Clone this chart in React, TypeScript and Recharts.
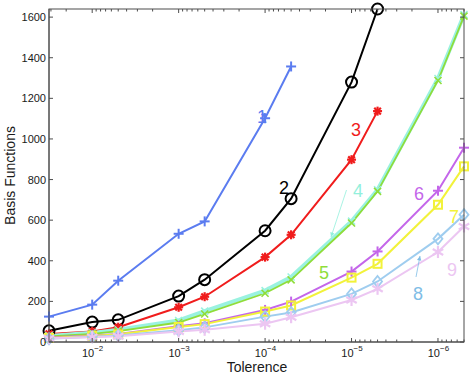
import React from 'react';
import { LineChart, Line, XAxis, YAxis } from 'recharts';

// ---- data ----
const tolerances = [0.0316, 1e-2, 5e-3, 1e-3, 5e-4, 1e-4, 5e-5, 1e-5, 5e-6, 1e-6, 5e-7];
const basis1 = [125, 184, 302, 533, 594, 1102, 1357, null, null, null, null];
const basis2 = [55, 98, 109, 226, 307, 548, 706, 1280, 1640, null, null];
const basis3 = [40, 52, 73, 171, 223, 418, 528, 898, 1137, null, null];
const basis4 = [30, 45, 60, 106, 152, 253, 320, 595, 750, 1298, 1612];
const basis5 = [28, 40, 54, 96, 138, 240, 306, 586, 742, 1288, 1605];
const basis6 = [22, 32, 40, 78, 92, 158, 199, 347, 446, 745, 957];
const basis7 = [20, 30, 38, 74, 88, 150, 180, 317, 385, 676, 865];
const basis8 = [16, 26, 32, 58, 72, 125, 145, 237, 298, 508, 627];
const basis9 = [18, 24, 28, 52, 60, 90, 122, 207, 262, 443, 569];

const seriesLabels = ['1', '2', '3', '4', '5', '6', '7', '8', '9'];
const xMajorTicks = [1e-2, 1e-3, 1e-4, 1e-5, 1e-6];
const xMajorExponents = ['\u22122', '\u22123', '\u22124', '\u22125', '\u22126'];
const yTicks = [0, 200, 400, 600, 800, 1000, 1200, 1400, 1600];
const xDomain = [5e-7, 0.0316];
const yDomain = [0, 1640];

const allSeries = [basis1, basis2, basis3, basis4, basis5, basis6, basis7, basis8, basis9];
const chartData = tolerances.map((t, i) => {
  const row: any = { tol: t };
  allSeries.forEach((s, k) => {
    row['s' + (k + 1)] = s[i];
  });
  return row;
});

// minor tick positions (2..9 x 10^k) inside the domain
const minorTicks: number[] = [];
for (let e = -7; e <= -1; e++) {
  for (let m = 2; m <= 9; m++) {
    const v = m * Math.pow(10, e);
    if (v >= xDomain[0] * 0.999 && v <= xDomain[1] * 1.001) minorTicks.push(v);
  }
}
const allXTicks = [...xMajorTicks, ...minorTicks].sort((a, b) => a - b);

// ---- layout ----
const W = 474;
const H = 377;
const PLOT_LEFT = 49;
const PLOT_RIGHT = 464;
const PLOT_TOP = 9;
const PLOT_BOTTOM = 342;
const PLOT_W = PLOT_RIGHT - PLOT_LEFT;
const PLOT_H = PLOT_BOTTOM - PLOT_TOP;
const AXIS = '#4d4d4d';
const FONT = '"Liberation Sans", Arial, Helvetica, sans-serif';

const styles = [
  { color: '#5b7cf0', marker: 'plus', width: 2 },
  { color: '#000000', marker: 'circle', width: 2 },
  { color: '#f01c1c', marker: 'asterisk', width: 2 },
  { color: '#9af2e0', marker: 'x', width: 4 },
  { color: '#8fdd3a', marker: 'x', width: 1.8 },
  { color: '#c466ea', marker: 'plus', width: 2 },
  { color: '#f2f23a', marker: 'square', width: 2 },
  { color: '#9fcdef', marker: 'diamond', width: 2 },
  { color: '#ecc6f2', marker: 'star', width: 2 },
];

function renderMarker(kind: string, color: string, p: any) {
  const key = `${kind}-${p.index}-${color}`;
  const { cx, cy } = p;
  if (cx == null || cy == null || p.value == null || (Array.isArray(p.value) && p.value[1] == null)) {
    return <g key={key} />;
  }
  switch (kind) {
    case 'plus':
      return (
        <g key={key} stroke={color} strokeWidth={2}>
          <line x1={cx - 5} y1={cy} x2={cx + 5} y2={cy} />
          <line x1={cx} y1={cy - 5} x2={cx} y2={cy + 5} />
        </g>
      );
    case 'circle':
      return <circle key={key} cx={cx} cy={cy} r={5.5} fill="none" stroke={color} strokeWidth={2} />;
    case 'asterisk':
      return (
        <g key={key} stroke={color} strokeWidth={2.2}>
          <line x1={cx - 4.5} y1={cy} x2={cx + 4.5} y2={cy} />
          <line x1={cx} y1={cy - 4.5} x2={cx} y2={cy + 4.5} />
          <line x1={cx - 3.3} y1={cy - 3.3} x2={cx + 3.3} y2={cy + 3.3} />
          <line x1={cx - 3.3} y1={cy + 3.3} x2={cx + 3.3} y2={cy - 3.3} />
        </g>
      );
    case 'x':
      return (
        <g key={key} stroke={color} strokeWidth={1.6}>
          <line x1={cx - 3.5} y1={cy - 3.5} x2={cx + 3.5} y2={cy + 3.5} />
          <line x1={cx - 3.5} y1={cy + 3.5} x2={cx + 3.5} y2={cy - 3.5} />
        </g>
      );
    case 'square':
      return <rect key={key} x={cx - 4} y={cy - 4} width={8} height={8} fill="none" stroke={color} strokeWidth={2} />;
    case 'diamond':
      return (
        <polygon
          key={key}
          points={`${cx},${cy - 5.5} ${cx + 4.5},${cy} ${cx},${cy + 5.5} ${cx - 4.5},${cy}`}
          fill="none"
          stroke={color}
          strokeWidth={1.8}
        />
      );
    case 'star':
    default:
      return (
        <g key={key} stroke={color} strokeWidth={2.2}>
          <line x1={cx} y1={cy - 6} x2={cx} y2={cy + 6} />
          <line x1={cx - 5.2} y1={cy - 3} x2={cx + 5.2} y2={cy + 3} />
          <line x1={cx - 5.2} y1={cy + 3} x2={cx + 5.2} y2={cy - 3} />
        </g>
      );
  }
}

const BottomTick = (props: any) => {
  const { x, y, payload, index } = props;
  const idx = xMajorTicks.indexOf(payload.value);
  const major = idx >= 0;
  const len = major ? 4 : 2.5;
  return (
    <g key={`bt-${index}`}>
      <line x1={x} y1={y} x2={x} y2={y - len} stroke={AXIS} strokeWidth={1} />
      <line x1={x} y1={y - PLOT_H} x2={x} y2={y - PLOT_H + len} stroke={AXIS} strokeWidth={1} />
      {major && (
        <text x={x + 2} y={y + 15} textAnchor="end" fontSize={11} fontFamily={FONT} fill="#1a1a1a">
          10
        </text>
      )}
      {major && (
        <text x={x + 2} y={y + 9} textAnchor="start" fontSize={8} fontFamily={FONT} fill="#1a1a1a">
          {xMajorExponents[idx]}
        </text>
      )}
    </g>
  );
};

const LeftTick = (props: any) => {
  const { x, y, payload, index } = props;
  return (
    <g key={`lt-${index}`}>
      <line x1={x} y1={y} x2={x + 4} y2={y} stroke={AXIS} strokeWidth={1} />
      <line x1={x + PLOT_W} y1={y} x2={x + PLOT_W - 4} y2={y} stroke={AXIS} strokeWidth={1} />
      <text x={x - 3} y={y + 4} textAnchor="end" fontSize={11} fontFamily={FONT} fill="#1a1a1a">
        {payload.value}
      </text>
    </g>
  );
};

const annotations = [
  { text: seriesLabels[0], x: 262, y: 123, color: '#5b7cf0' },
  { text: seriesLabels[1], x: 284, y: 194, color: '#000000' },
  { text: seriesLabels[2], x: 356, y: 136, color: '#f01c1c' },
  { text: seriesLabels[3], x: 358, y: 197, color: '#93f0dc' },
  { text: seriesLabels[4], x: 324, y: 279, color: '#8fdd3a' },
  { text: seriesLabels[5], x: 419, y: 200, color: '#c466ea' },
  { text: seriesLabels[6], x: 454, y: 223, color: '#f2f23a' },
  { text: seriesLabels[7], x: 418, y: 300, color: '#7fbde6' },
  { text: seriesLabels[8], x: 452, y: 276, color: '#ecc6f2' },
];

const arrows = [
  { x1: 262, y1: 110, x2: 264.5, y2: 118, color: '#5b7cf0' },
  { x1: 346.5, y1: 190, x2: 331, y2: 237, color: '#93f0dc' },
  { x1: 416, y1: 277, x2: 420, y2: 256, color: '#7fbde6' },
];

function arrowHead(a: any) {
  const dx = a.x2 - a.x1;
  const dy = a.y2 - a.y1;
  const len = Math.sqrt(dx * dx + dy * dy) || 1;
  const ux = dx / len;
  const uy = dy / len;
  const hl = 4.5;
  const hw = 2.2;
  const bx = a.x2 - ux * hl;
  const by = a.y2 - uy * hl;
  return `${a.x2},${a.y2} ${bx - uy * hw},${by + ux * hw} ${bx + uy * hw},${by - ux * hw}`;
}

export default function App() {
  return (
    <div style={{ position: 'absolute', left: 0, top: 0, width: W, height: H, background: '#fff' }}>
      <LineChart
        width={W}
        height={H}
        data={chartData}
        margin={{ top: PLOT_TOP, right: W - PLOT_RIGHT, bottom: 0, left: 0 }}
      >
        <XAxis
          dataKey="tol"
          type="number"
          scale="log"
          domain={xDomain}
          reversed
          ticks={allXTicks}
          interval={0}
          height={H - PLOT_BOTTOM}
          tickSize={0}
          tickMargin={0}
          tickLine={false}
          axisLine={{ stroke: AXIS, strokeWidth: 1 }}
          tick={BottomTick}
        />
        <YAxis
          type="number"
          domain={yDomain}
          ticks={yTicks}
          interval={0}
          width={PLOT_LEFT}
          tickSize={0}
          tickMargin={0}
          tickLine={false}
          axisLine={{ stroke: AXIS, strokeWidth: 1 }}
          tick={LeftTick}
        />
        {styles.map((s, k) => (
          <Line
            key={'s' + (k + 1)}
            dataKey={'s' + (k + 1)}
            name={seriesLabels[k]}
            stroke={s.color}
            strokeWidth={s.width}
            isAnimationActive={false}
            connectNulls={false}
            dot={(p: any) => renderMarker(s.marker, s.color, p)}
            activeDot={false}
          />
        ))}
      </LineChart>
      <svg
        width={W}
        height={H}
        style={{ position: 'absolute', left: 0, top: 0, pointerEvents: 'none' }}
      >
        <rect
          x={PLOT_LEFT}
          y={PLOT_TOP}
          width={PLOT_W}
          height={PLOT_H}
          fill="none"
          stroke={AXIS}
          strokeWidth={1}
        />
        {annotations.map((a, i) => (
          <text
            key={'an' + i}
            x={a.x}
            y={a.y}
            textAnchor="middle"
            fontSize={18}
            fontFamily={FONT}
            fill={a.color}
          >
            {a.text}
          </text>
        ))}
        {arrows.map((a, i) => (
          <g key={'ar' + i}>
            <line x1={a.x1} y1={a.y1} x2={a.x2} y2={a.y2} stroke={a.color} strokeWidth={0.8} />
            <polygon points={arrowHead(a)} fill={a.color} />
          </g>
        ))}
        <text x={257} y={372} textAnchor="middle" fontSize={14} fontFamily={FONT} fill="#1a1a1a">
          Tolerence
        </text>
        <text
          x={0}
          y={0}
          transform={`translate(15, ${(PLOT_TOP + PLOT_BOTTOM) / 2}) rotate(-90)`}
          textAnchor="middle"
          fontSize={14}
          fontFamily={FONT}
          fill="#1a1a1a"
        >
          Basis Functions
        </text>
      </svg>
    </div>
  );
}
